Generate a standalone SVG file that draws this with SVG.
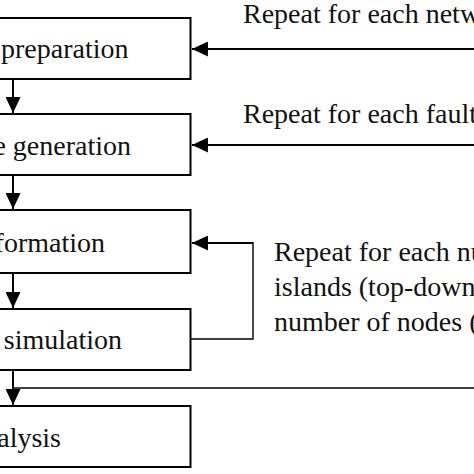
<svg xmlns="http://www.w3.org/2000/svg" width="474" height="474" viewBox="0 0 474 474">
<style>
  .box { fill: #fff; stroke: #000; stroke-width: 2; }
  .t { font-family: "Liberation Serif", "Times New Roman", serif; font-size: 28px; fill: #111; }
  .thick { stroke: #000; stroke-width: 2; fill: none; }
  .thin { stroke: #000; stroke-width: 1.4; fill: none; }
</style>
<defs>
  <marker id="ah" viewBox="0 0 16 15" refX="16" refY="7.5" markerWidth="16" markerHeight="15" orient="auto" markerUnits="userSpaceOnUse">
    <path d="M0,0 L16,7.5 L0,15 z" fill="#000"/>
  </marker>
</defs>
<rect width="474" height="474" fill="#fff"/>

<g id="connectors">
  <line class="thick" x1="13" y1="79" x2="13" y2="113" marker-end="url(#ah)"/>
  <line class="thick" x1="13" y1="175" x2="13" y2="209" marker-end="url(#ah)"/>
  <line class="thick" x1="13" y1="273" x2="13" y2="308" marker-end="url(#ah)"/>
  <line class="thick" x1="13" y1="370" x2="13" y2="405" marker-end="url(#ah)"/>
  <line class="thick" x1="476" y1="49" x2="192" y2="49" marker-end="url(#ah)"/>
  <line class="thick" x1="476" y1="145" x2="192" y2="145" marker-end="url(#ah)"/>
  <line class="thick" x1="253" y1="243" x2="192" y2="243" marker-end="url(#ah)"/>
  <polyline class="thin" points="191,339 253,339 253,242"/>
  <line class="thin" x1="13" y1="388" x2="476" y2="388"/>
</g>

<g id="node-preparation">
  <rect class="box" x="-20" y="18" width="210.5" height="61"/>
  <text class="t" x="128.5" y="58" text-anchor="end">preparation</text>
</g>
<g id="node-generation">
  <rect class="box" x="-20" y="114" width="210.5" height="61"/>
  <text class="t" x="131" y="155" text-anchor="end">e generation</text>
</g>
<g id="node-formation">
  <rect class="box" x="-20" y="210" width="210.5" height="63"/>
  <text class="t" x="105" y="252" text-anchor="end">formation</text>
</g>
<g id="node-simulation">
  <rect class="box" x="-20" y="309" width="210.5" height="61"/>
  <text class="t" x="122" y="349" text-anchor="end">simulation</text>
</g>
<g id="node-analysis">
  <rect class="box" x="-20" y="406" width="210.5" height="61"/>
  <text class="t" x="61" y="447" text-anchor="end">alysis</text>
</g>

<g id="labels">
  <text class="t" x="243" y="23">Repeat for each netw</text>
  <text class="t" x="243" y="123">Repeat for each fault</text>
  <text class="t" x="274" y="261">Repeat for each nu</text>
  <text class="t" x="274" y="296">islands (top-down</text>
  <text class="t" x="274" y="331">number of nodes (</text>
</g>
</svg>
